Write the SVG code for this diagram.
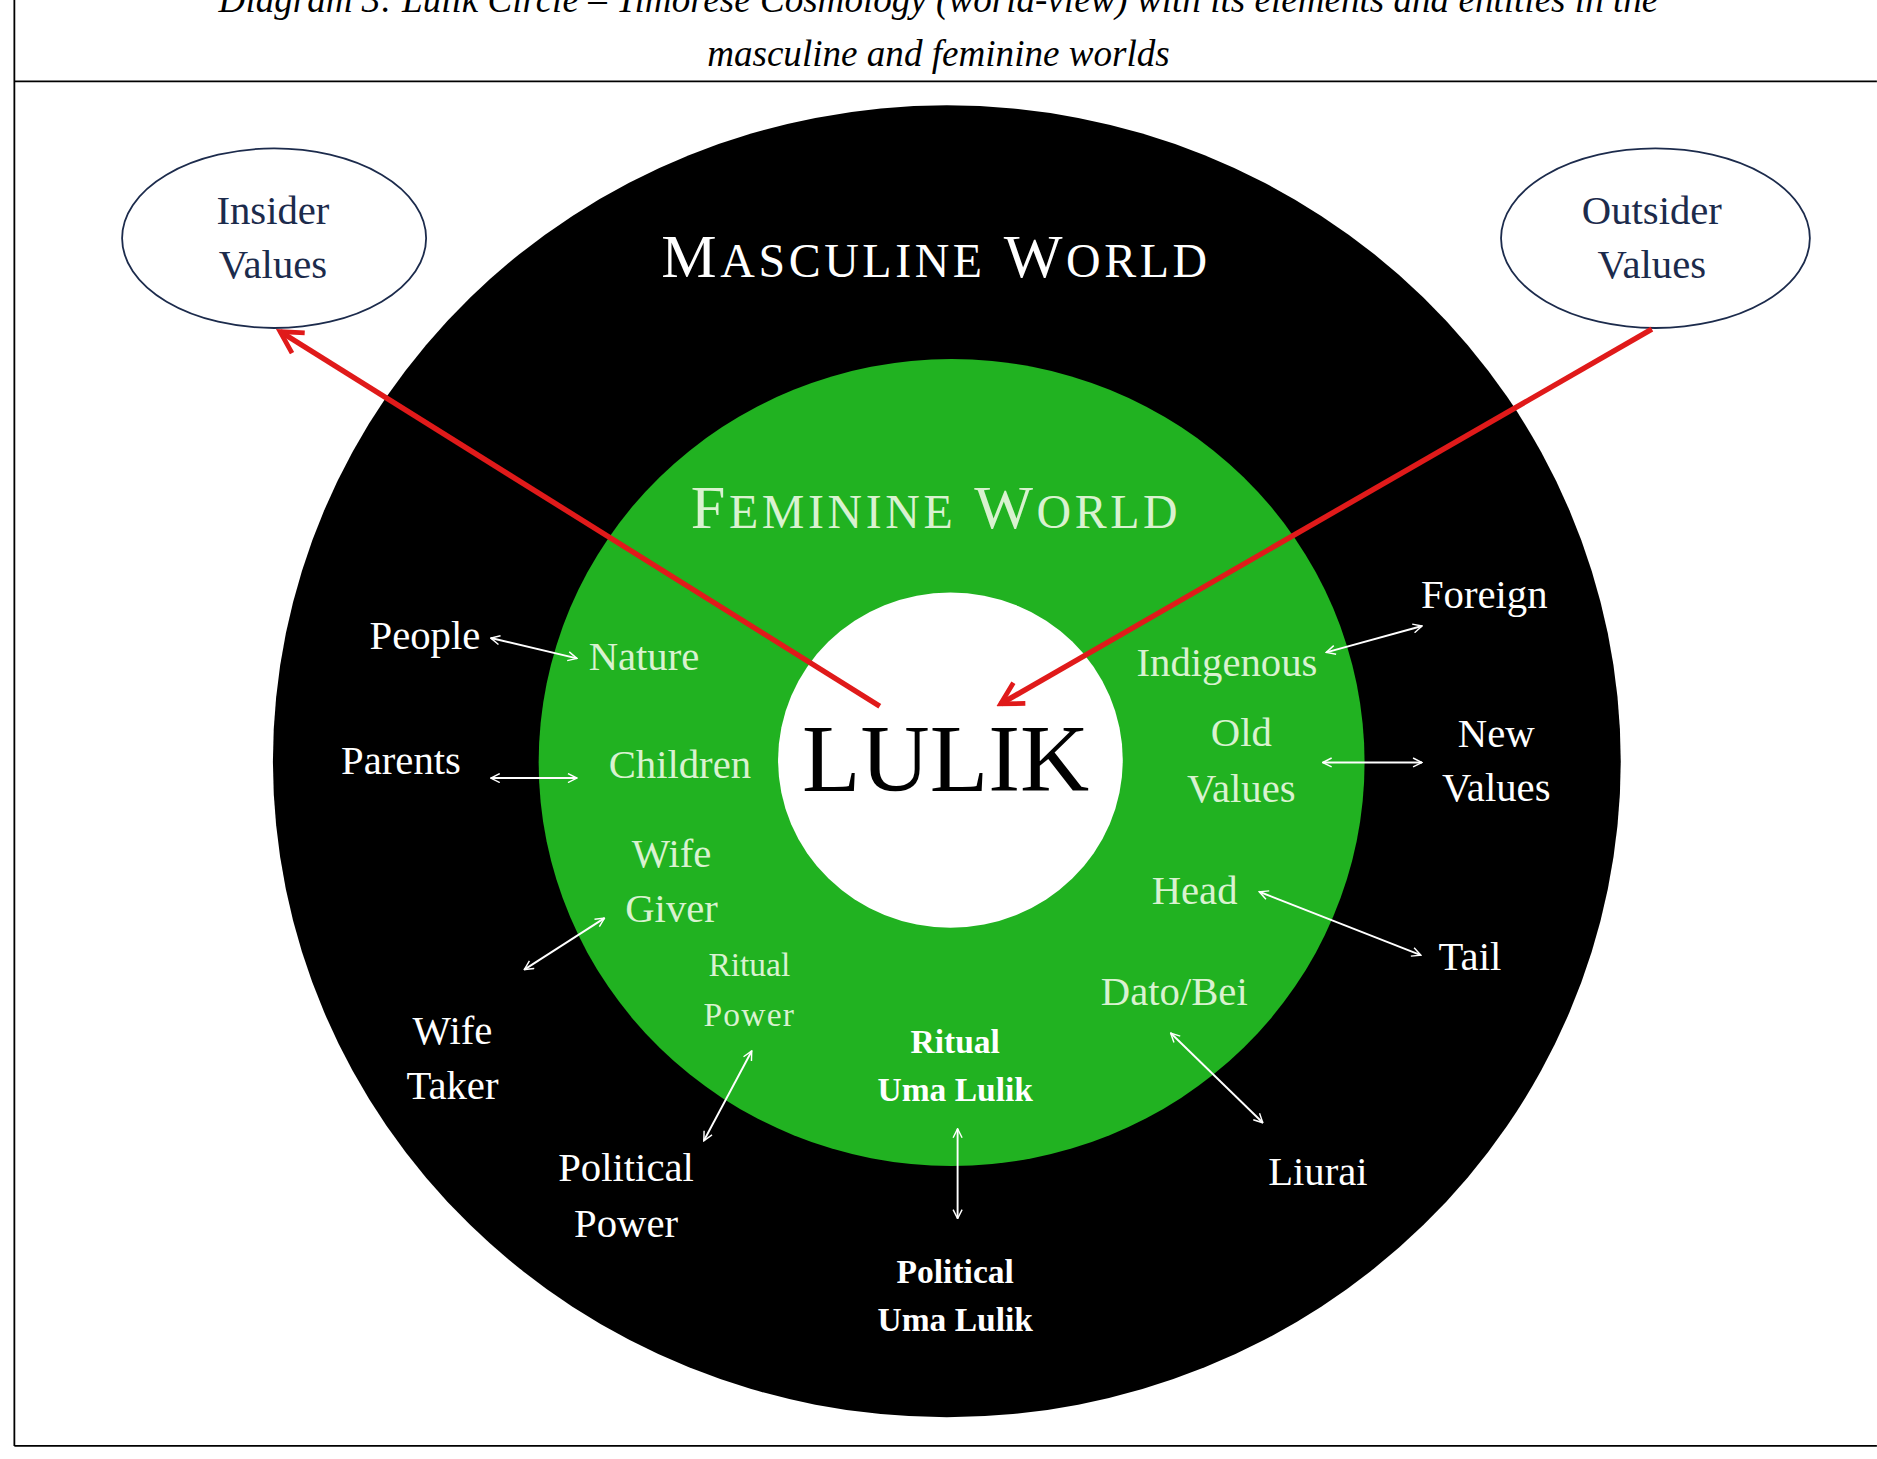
<svg xmlns="http://www.w3.org/2000/svg" width="1877" height="1459" viewBox="0 0 1877 1459">
<style>
text{font-family:"Liberation Serif","Times New Roman",serif;text-anchor:middle}
.w{fill:#fff;font-size:34px}
.g{fill:#d9f2d0;font-size:34px}
.sm{font-size:28px}
.b{font-weight:bold}
.dv{fill:#1c2b4c;font-size:34px}
.sa{stroke:#fff;stroke-width:1.6;fill:none;marker-start:url(#ch);marker-end:url(#ch)}
.ra{stroke:#e01a1a;stroke-width:4.5;fill:none;marker-end:url(#rh)}
</style>
<defs>
<marker id="ch" viewBox="0 0 12 12" refX="11" refY="6" markerWidth="9" markerHeight="9" markerUnits="userSpaceOnUse" orient="auto-start-reverse"><path d="M1,1 L11,6 L1,11" fill="none" stroke="#fff" stroke-width="1.6"/></marker>
<marker id="rh" viewBox="0 0 12 12" refX="10" refY="6" markerWidth="24" markerHeight="24" markerUnits="userSpaceOnUse" orient="auto"><path d="M1,1 L10,6 L1,11" fill="none" stroke="#e01a1a" stroke-width="2"/></marker>
</defs>
<rect width="1877" height="1459" fill="#fff"/>
<g transform="scale(1.197)">
<g id="frame" fill="none" stroke="#000" stroke-width="1.5">
<line x1="12" y1="68" x2="1568" y2="68"/>
<line x1="12" y1="0" x2="12" y2="1208"/>
<line x1="12" y1="1208" x2="1568" y2="1208"/>
</g>
<g id="title" font-style="italic">
<text x="784" y="10" font-size="31" fill="#000">Diagram 3: Lulik Circle – Timorese Cosmology (world-view) with its elements and entities in the</text>
<text x="784" y="55" font-size="31" fill="#000">masculine and feminine worlds</text>
</g>
<g id="masculine"><ellipse cx="791" cy="636" rx="563" ry="548" fill="#000"/>
<text x="782" y="231" fill="#fff" font-size="52" letter-spacing="3">M<tspan font-size="40">ASCULINE</tspan> W<tspan font-size="40">ORLD</tspan></text></g>
<g id="feminine"><ellipse cx="795" cy="637" rx="345" ry="337" fill="#21b221"/>
<text x="782" y="441" fill="#d9f2d0" font-size="52" letter-spacing="3">F<tspan font-size="40">EMININE</tspan> W<tspan font-size="40">ORLD</tspan></text></g>
<g id="lulik"><ellipse cx="794" cy="635" rx="144" ry="140" fill="#fff"/>
<text x="790" y="661" font-size="80" fill="#000">LULIK</text></g>
<g id="insider"><ellipse cx="229" cy="199" rx="127" ry="75" fill="#fff" stroke="#1c2b4c" stroke-width="1.5"/>
<text class="dv" x="228" y="187">Insider</text><text class="dv" x="228" y="232">Values</text></g>
<g id="outsider"><ellipse cx="1383" cy="199" rx="129" ry="75" fill="#fff" stroke="#1c2b4c" stroke-width="1.5"/>
<text class="dv" x="1380" y="187">Outsider</text><text class="dv" x="1380" y="232">Values</text></g>
<g id="labels">
<text class="w" x="355" y="542">People</text>
<text class="w" x="335" y="647">Parents</text>
<text class="w" x="378" y="872">Wife</text><text class="w" x="378" y="918">Taker</text>
<text class="w" x="523" y="987">Political</text><text class="w" x="523" y="1033">Power</text>
<text class="w b sm" x="798" y="1072">Political</text><text class="w b sm" x="798" y="1112">Uma Lulik</text>
<text class="w" x="1101" y="990">Liurai</text>
<text class="w" x="1228" y="810">Tail</text>
<text class="w" x="1250" y="624">New</text><text class="w" x="1250" y="669">Values</text>
<text class="w" x="1240" y="508">Foreign</text>
<text class="g" x="538" y="560">Nature</text>
<text class="g" x="568" y="650">Children</text>
<text class="g" x="561" y="724">Wife</text><text class="g" x="561" y="770">Giver</text>
<text class="g sm" x="626" y="815">Ritual</text><text class="g sm" x="626" y="857" letter-spacing="1">Power</text>
<text class="w b sm" x="798" y="880">Ritual</text><text class="w b sm" x="798" y="920">Uma Lulik</text>
<text class="g" x="981" y="840">Dato/Bei</text>
<text class="g" x="998" y="755">Head</text>
<text class="g" x="1037" y="623">Old</text><text class="g" x="1037" y="670">Values</text>
<text class="g" x="1025" y="565">Indigenous</text>
</g>
<g id="connectors">
<line class="sa" x1="410" y1="533" x2="482" y2="550"/>
<line class="sa" x1="410" y1="650" x2="482" y2="650"/>
<line class="sa" x1="438" y1="810" x2="505" y2="767"/>
<line class="sa" x1="588" y1="953" x2="628" y2="878"/>
<line class="sa" x1="800" y1="943" x2="800" y2="1018"/>
<line class="sa" x1="978" y1="863" x2="1055" y2="938"/>
<line class="sa" x1="1052" y1="745" x2="1187" y2="798"/>
<line class="sa" x1="1105" y1="637" x2="1188" y2="637"/>
<line class="sa" x1="1108" y1="545" x2="1188" y2="523"/>
<line class="ra" x1="735" y1="590" x2="234" y2="277"/>
<line class="ra" x1="1380" y1="275" x2="836" y2="588"/>
</g>
</g>
</svg>
